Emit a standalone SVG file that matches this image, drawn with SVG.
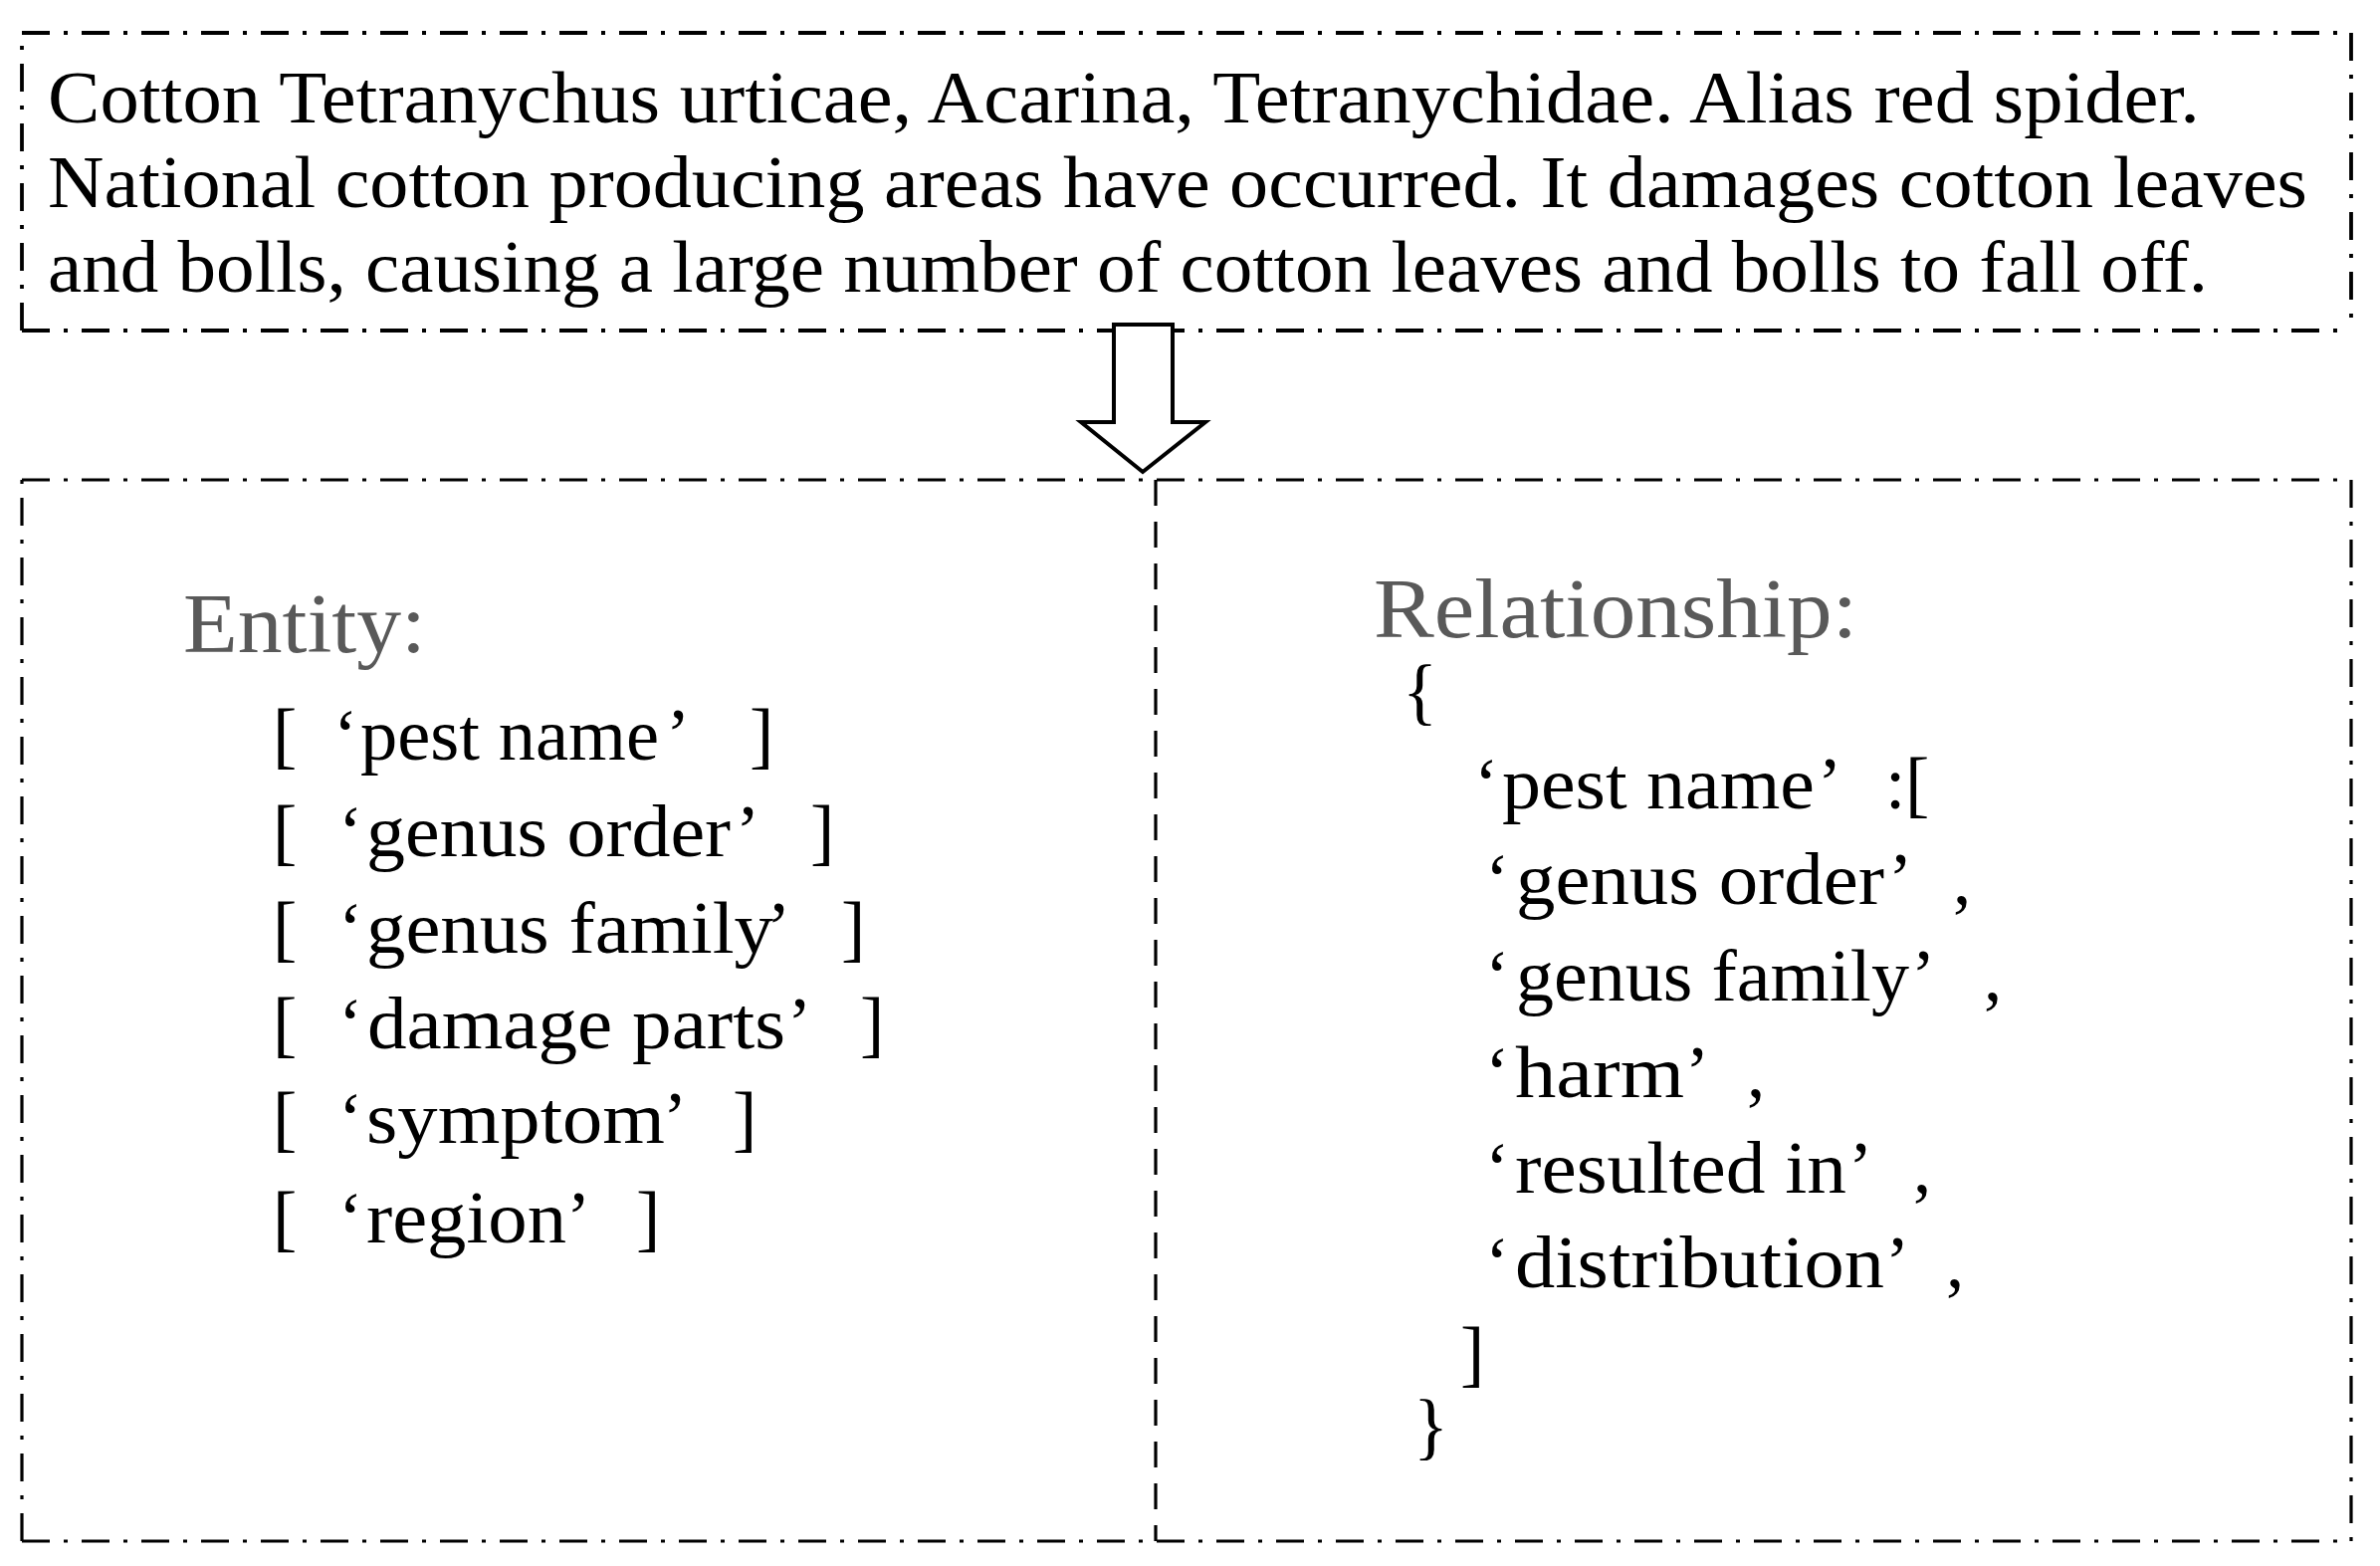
<svg xmlns="http://www.w3.org/2000/svg" width="2391" height="1573" viewBox="0 0 2391 1573">
<style>
.bg{fill:#ffffff}
.dd{fill:none;stroke:#000;stroke-dasharray:28 14 4 14}
.top{stroke-width:3.8}
.bot{stroke-width:3.2}
.div{fill:none;stroke:#000;stroke-width:3.2;stroke-dasharray:26 16}
.arrow{fill:#fff;stroke:#000;stroke-width:4;stroke-linejoin:miter}
text{font-family:"Liberation Serif","Times New Roman",serif;fill:#000}
.para{font-size:73px}
.head{font-size:84px;fill:#595959}
.item{font-size:73px}
</style>
<rect class="bg" x="0" y="0" width="2391" height="1573"/>

<g id="source-text">
  <g class="dd top">
    <line x1="22" y1="33" x2="2362" y2="33"/>
    <line x1="2362" y1="33" x2="2362" y2="332"/>
    <line x1="22" y1="332" x2="2362" y2="332"/>
    <line x1="22" y1="332" x2="22" y2="33"/>
  </g>
  <text class="para" x="48" y="123" textLength="2162" lengthAdjust="spacingAndGlyphs">Cotton Tetranychus urticae, Acarina, Tetranychidae. Alias red spider.</text>
  <text class="para" x="48" y="208" textLength="2270" lengthAdjust="spacingAndGlyphs">National cotton producing areas have occurred. It damages cotton leaves</text>
  <text class="para" x="48" y="293" textLength="2170" lengthAdjust="spacingAndGlyphs">and bolls, causing a large number of cotton leaves and bolls to fall off.</text>
</g>

<g id="result-frame">
  <g class="dd bot">
    <line x1="22" y1="482" x2="2362" y2="482"/>
    <line x1="2362" y1="482" x2="2362" y2="1548"/>
    <line x1="22" y1="1548" x2="2362" y2="1548"/>
    <line x1="22" y1="1548" x2="22" y2="482"/>
  </g>
  <line class="div" x1="1161" y1="482" x2="1161" y2="1548"/>
</g>

<g id="connectors">
  <polygon class="arrow" points="1119,326 1178,326 1178,424 1211,424 1148,474 1086,424 1119,424"/>
</g>

<g id="entity-panel">
  <text class="head" x="184" y="655" textLength="244" lengthAdjust="spacingAndGlyphs">Entity:</text>
  <text class="item" y="763"><tspan x="274">[</tspan><tspan x="335">‘</tspan><tspan x="362" textLength="300" lengthAdjust="spacingAndGlyphs">pest name</tspan><tspan x="669">’</tspan><tspan x="753">]</tspan></text>
  <text class="item" y="860"><tspan x="274">[</tspan><tspan x="340">‘</tspan><tspan x="368" textLength="366" lengthAdjust="spacingAndGlyphs">genus order</tspan><tspan x="739">’</tspan><tspan x="814">]</tspan></text>
  <text class="item" y="957"><tspan x="274">[</tspan><tspan x="340">‘</tspan><tspan x="368" textLength="409" lengthAdjust="spacingAndGlyphs">genus family</tspan><tspan x="770">’</tspan><tspan x="845">]</tspan></text>
  <text class="item" y="1053"><tspan x="274">[</tspan><tspan x="340">‘</tspan><tspan x="369" textLength="420" lengthAdjust="spacingAndGlyphs">damage parts</tspan><tspan x="791">’</tspan><tspan x="864">]</tspan></text>
  <text class="item" y="1148"><tspan x="274">[</tspan><tspan x="340">‘</tspan><tspan x="368" textLength="300" lengthAdjust="spacingAndGlyphs">symptom</tspan><tspan x="666">’</tspan><tspan x="736">]</tspan></text>
  <text class="item" y="1248"><tspan x="274">[</tspan><tspan x="340">‘</tspan><tspan x="368" textLength="201" lengthAdjust="spacingAndGlyphs">region</tspan><tspan x="569">’</tspan><tspan x="639">]</tspan></text>
</g>

<g id="relationship-panel">
  <text class="head" x="1380" y="640" textLength="486" lengthAdjust="spacingAndGlyphs">Relationship:</text>
  <text class="item" x="1409" y="719">{</text>
  <text class="item" y="812"><tspan x="1481">‘</tspan><tspan x="1509" textLength="314" lengthAdjust="spacingAndGlyphs">pest name</tspan><tspan x="1826">’</tspan><tspan x="1894">:</tspan><tspan x="1914">[</tspan></text>
  <text class="item" y="908"><tspan x="1492">‘</tspan><tspan x="1523" textLength="370" lengthAdjust="spacingAndGlyphs">genus order</tspan><tspan x="1897">’</tspan><tspan x="1962">,</tspan></text>
  <text class="item" y="1005"><tspan x="1492">‘</tspan><tspan x="1523" textLength="395" lengthAdjust="spacingAndGlyphs">genus family</tspan><tspan x="1920">’</tspan><tspan x="1993">,</tspan></text>
  <text class="item" y="1102"><tspan x="1492">‘</tspan><tspan x="1522" textLength="170" lengthAdjust="spacingAndGlyphs">harm</tspan><tspan x="1693">’</tspan><tspan x="1755">,</tspan></text>
  <text class="item" y="1198"><tspan x="1492">‘</tspan><tspan x="1522" textLength="333" lengthAdjust="spacingAndGlyphs">resulted in</tspan><tspan x="1857">’</tspan><tspan x="1922">,</tspan></text>
  <text class="item" y="1293"><tspan x="1492">‘</tspan><tspan x="1522" textLength="371" lengthAdjust="spacingAndGlyphs">distribution</tspan><tspan x="1894">’</tspan><tspan x="1955">,</tspan></text>
  <text class="item" x="1467" y="1384">]</text>
  <text class="item" x="1420" y="1457">}</text>
</g>
</svg>
